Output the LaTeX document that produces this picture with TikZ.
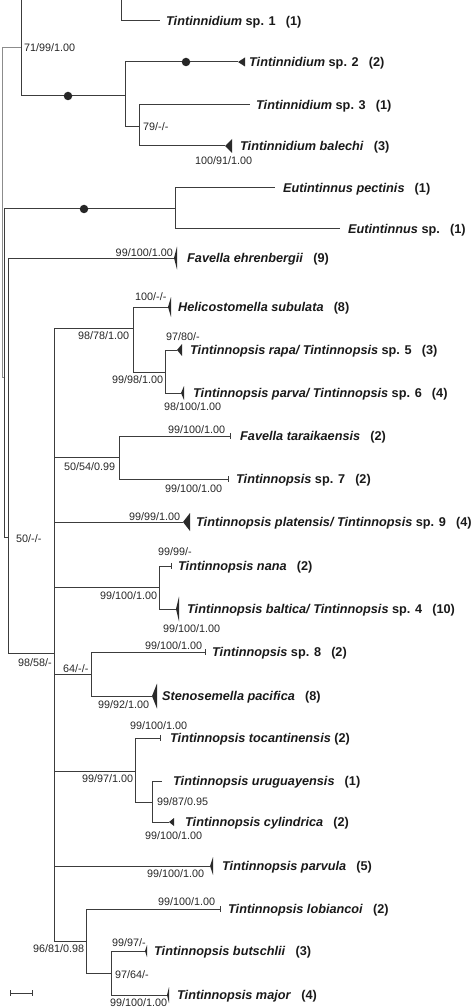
\documentclass[tikz,border=0pt]{standalone}
\usepackage{fontspec}
\setmainfont{Liberation Sans}
\usepackage{xcolor}
\usepackage{tikz}
\usetikzlibrary{positioning}
\definecolor{branchgray}{RGB}{60,60,60}
\definecolor{rootgray}{RGB}{140,140,140}
\tikzstyle{branch} = [draw=branchgray, line width=1pt]
\tikzstyle{rootbranch} = [draw=rootgray, line width=1pt]
\tikzstyle{support} = [inner sep=0pt, anchor=west, text height=7.7pt, text depth=0pt,
    font=\fontsize{10.8}{12}\selectfont, text=black!85]
\tikzstyle{taxon} = [inner sep=0pt, text height=9pt, text depth=0pt,
    font=\fontsize{12.7}{14}\selectfont\bfseries, text=black!90]
\tikzstyle{dotnode} = [circle, fill=black!85, inner sep=0pt, minimum size=8.5pt]
\newcommand{\nseq}[1]{\hspace{0.8em}(#1)}
\newcommand{\collapse}[3]{\fill[branchgray!70!black] (#1) -- ++(#2,-#3) -- ++(0,2*#3) -- cycle;}
\newcommand{\tipmark}[1]{\draw[branch] (#1) ++(0,-3) -- ++(0,6);}

\begin{document}
\begin{tikzpicture}[x=1pt, y=-1pt]
\useasboundingbox (0,0) rectangle (474,1008);

% ── Internal nodes ────
\coordinate (root) at (2,377);
\coordinate (n71) at (21,48);
\coordinate (ncut) at (121,0);
\coordinate (ntin) at (125,96);
\coordinate (n79) at (139,127);
\coordinate (nbase) at (4,377);
\coordinate (neut) at (175,209);
\coordinate (n50) at (8,537);
\coordinate (n98) at (54,653);
\coordinate (n9878) at (133,328);
\coordinate (n9998) at (165,372);
\coordinate (n5054) at (119,457);
\coordinate (nnana) at (159,587);
\coordinate (n64) at (91,674);
\coordinate (n9997) at (135,771);
\coordinate (n9987) at (152,802);
\coordinate (n96) at (86,941);
\coordinate (n9764) at (111,973);

% ── Tips ────
\coordinate (tin1) at (160,21);
\coordinate (tin2) at (238,62);
\coordinate (tin3) at (250,105);
\coordinate (bale) at (225,146);
\coordinate (eut1) at (275,188);
\coordinate (eut2) at (340,229);
\coordinate (fehr) at (174,258);
\coordinate (heli) at (168,307);
\coordinate (rapa) at (177,350);
\coordinate (parva) at (181,393);
\coordinate (ftar) at (230,436);
\coordinate (tsp7) at (228,479);
\coordinate (plat) at (183,522);
\coordinate (nana) at (171,566);
\coordinate (balt) at (176,609);
\coordinate (tsp8) at (205,652);
\coordinate (sten) at (152,696);
\coordinate (toca) at (160,738);
\coordinate (urug) at (162,781);
\coordinate (cyli) at (169,822);
\coordinate (pvla) at (210,866);
\coordinate (lobi) at (220,909);
\coordinate (buts) at (145,951);
\coordinate (majo) at (167,995);

% ── Branches ────
\draw[rootbranch] (root) |- (n71);
\draw[rootbranch] (root) |- (nbase);
\draw[branch] (n71) |- (ncut);
\draw[branch] (ncut) |- (tin1);
\draw[branch] (n71) |- (ntin);
\draw[branch] (ntin) |- (tin2);
\draw[branch] (ntin) |- (n79);
\draw[branch] (n79) |- (tin3);
\draw[branch] (n79) |- (bale);
\draw[branch] (nbase) |- (neut);
\draw[branch] (neut) |- (eut1);
\draw[branch] (neut) |- (eut2);
\draw[branch] (nbase) |- (n50);
\draw[branch] (n50) |- (fehr);
\draw[branch] (n50) |- (n98);
\draw[branch] (n98) |- (n9878);
\draw[branch] (n9878) |- (heli);
\draw[branch] (n9878) |- (n9998);
\draw[branch] (n9998) |- (rapa);
\draw[branch] (n9998) |- (parva);
\draw[branch] (n98) |- (n5054);
\draw[branch] (n5054) |- (ftar);
\draw[branch] (n5054) |- (tsp7);
\draw[branch] (n98) |- (plat);
\draw[branch] (n98) |- (nnana);
\draw[branch] (nnana) |- (nana);
\draw[branch] (nnana) |- (balt);
\draw[branch] (n98) |- (n64);
\draw[branch] (n64) |- (tsp8);
\draw[branch] (n64) |- (sten);
\draw[branch] (n98) |- (n9997);
\draw[branch] (n9997) |- (toca);
\draw[branch] (n9997) |- (n9987);
\draw[branch] (n9987) |- (urug);
\draw[branch] (n9987) |- (cyli);
\draw[branch] (n98) |- (pvla);
\draw[branch] (n98) |- (n96);
\draw[branch] (n96) |- (lobi);
\draw[branch] (n96) |- (n9764);
\draw[branch] (n9764) |- (buts);
\draw[branch] (n9764) |- (majo);

% ── Collapsed clades ────
\collapse{tin2}{7}{4.5}
\collapse{bale}{7}{7}
\collapse{fehr}{3}{11.5}
\collapse{heli}{3}{10}
\collapse{rapa}{5}{6}
\collapse{parva}{3}{7}
\collapse{plat}{7}{9}
\collapse{balt}{3}{12.5}
\collapse{sten}{5}{12.5}
\collapse{cyli}{5}{4}
\collapse{pvla}{3}{9}
\collapse{buts}{2}{6}
\collapse{majo}{2}{8}
\tipmark{ftar}
\tipmark{tsp7}
\tipmark{nana}
\tipmark{tsp8}
\tipmark{toca}
\tipmark{lobi}

% ── Filled dots ────
\node[dotnode] (dot1) at (68,96) {};
\node[dotnode] (dot2) at (186,62) {};
\node[dotnode] (dot3) at (84,209) {};

% ── Taxon labels ────
\node[taxon, right=6pt of tin1] (ltin1) {\textit{Tintinnidium} sp. 1\nseq{1}};
\node[taxon, right=11pt of tin2] (ltin2) {\textit{Tintinnidium} sp. 2\nseq{2}};
\node[taxon, right=6pt of tin3] (ltin3) {\textit{Tintinnidium} sp. 3\nseq{1}};
\node[taxon, right=15pt of bale] (lbale) {\textit{Tintinnidium balechi}\nseq{3}};
\node[taxon, right=8pt of eut1] (leut1) {\textit{Eutintinnus pectinis}\nseq{1}};
\node[taxon, right=8pt of eut2] (leut2) {\textit{Eutintinnus} sp.\nseq{1}};
\node[taxon, right=13pt of fehr] (lfehr) {\textit{Favella ehrenbergii}\nseq{9}};
\node[taxon, right=10pt of heli] (lheli) {\textit{Helicostomella subulata}\nseq{8}};
\node[taxon, right=13pt of rapa] (lrapa) {\textit{Tintinnopsis rapa/ Tintinnopsis} sp. 5\nseq{3}};
\node[taxon, right=12pt of parva] (lparva) {\textit{Tintinnopsis parva/ Tintinnopsis} sp. 6\nseq{4}};
\node[taxon, right=10pt of ftar] (lftar) {\textit{Favella taraikaensis}\nseq{2}};
\node[taxon, right=8pt of tsp7] (ltsp7) {\textit{Tintinnopsis} sp. 7\nseq{2}};
\node[taxon, right=13pt of plat] (lplat) {\textit{Tintinnopsis platensis/ Tintinnopsis} sp. 9\nseq{4}};
\node[taxon, right=7pt of nana] (lnana) {\textit{Tintinnopsis nana}\nseq{2}};
\node[taxon, right=11pt of balt] (lbalt) {\textit{Tintinnopsis baltica/ Tintinnopsis} sp. 4\nseq{10}};
\node[taxon, right=7pt of tsp8] (ltsp8) {\textit{Tintinnopsis} sp. 8\nseq{2}};
\node[taxon, right=10pt of sten] (lsten) {\textit{Stenosemella pacifica}\nseq{8}};
\node[taxon, right=10pt of toca] (ltoca) {\textit{Tintinnopsis tocantinensis} (2)};
\node[taxon, right=11pt of urug] (lurug) {\textit{Tintinnopsis uruguayensis}\nseq{1}};
\node[taxon, right=16pt of cyli] (lcyli) {\textit{Tintinnopsis cylindrica}\nseq{2}};
\node[taxon, right=12pt of pvla] (lpvla) {\textit{Tintinnopsis parvula}\nseq{5}};
\node[taxon, right=8pt of lobi] (llobi) {\textit{Tintinnopsis lobiancoi}\nseq{2}};
\node[taxon, right=9pt of buts] (lbuts) {\textit{Tintinnopsis butschlii}\nseq{3}};
\node[taxon, right=10pt of majo] (lmajo) {\textit{Tintinnopsis major}\nseq{4}};

% ── Support values ────
\node[support] (s71) at (24,48) {71/99/1.00};
\node[support] (s79) at (143,127) {79/-/-};
\node[support] (sbale) at (195,161) {100/91/1.00};
\node[support, anchor=east] (sfehr) at (173,253) {99/100/1.00};
\node[support] (sheli) at (135,297) {100/-/-};
\node[support] (s9878) at (78,336) {98/78/1.00};
\node[support] (srapa) at (166,337) {97/80/-};
\node[support] (s9998) at (112,380) {99/98/1.00};
\node[support] (sparva) at (164,407) {98/100/1.00};
\node[support] (sftar) at (168,430) {99/100/1.00};
\node[support] (s5054) at (64,467) {50/54/0.99};
\node[support] (stsp7) at (165,489) {99/100/1.00};
\node[support] (splat) at (129,517) {99/99/1.00};
\node[support] (s50) at (16,539) {50/-/-};
\node[support] (snana) at (158,552) {99/99/-};
\node[support] (snnana) at (100,596) {99/100/1.00};
\node[support] (sbalt) at (163,629) {99/100/1.00};
\node[support] (stsp8) at (145,646) {99/100/1.00};
\node[support] (s98) at (18,663) {98/58/-};
\node[support] (s64) at (63,669) {64/-/-};
\node[support] (ssten) at (98,705) {99/92/1.00};
\node[support] (stoca) at (130,726) {99/100/1.00};
\node[support] (s9997) at (82,779) {99/97/1.00};
\node[support] (s9987) at (157,802) {99/87/0.95};
\node[support] (scyli) at (145,836) {99/100/1.00};
\node[support] (spvla) at (147,874) {99/100/1.00};
\node[support] (slobi) at (158,902) {99/100/1.00};
\node[support] (s96) at (33,949) {96/81/0.98};
\node[support] (sbuts) at (112,943) {99/97/-};
\node[support] (s9764) at (115,975) {97/64/-};
\node[support] (smajo) at (110,1003) {99/100/1.00};

% ── Scale bar ────
\coordinate (sb1) at (10,993);
\coordinate (sb2) at (32,993);
\draw[branch] (sb1) -- (sb2);
\tipmark{sb1}
\tipmark{sb2}

\end{tikzpicture}
\end{document}
